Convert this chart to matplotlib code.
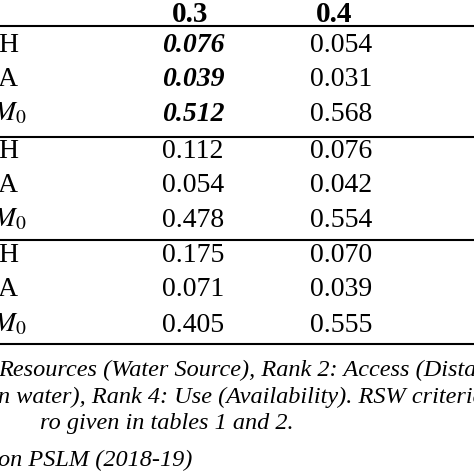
import matplotlib.pyplot as plt

plt.rcParams['font.family'] = ['Liberation Serif', 'DejaVu Serif']
plt.rcParams['mathtext.fontset'] = 'stix'

headers = ["0.3", "0.4"]
row_labels = ["H", "A", "$M_0$"] * 3
col_03 = ["0.076", "0.039", "0.512", "0.112", "0.054", "0.478", "0.175", "0.071", "0.405"]
col_04 = ["0.054", "0.031", "0.568", "0.076", "0.042", "0.554", "0.070", "0.039", "0.555"]
bold_rows = [0, 1, 2]
notes = ["Resources (Water Source), Rank 2: Access (Distance",
         "n water), Rank 4: Use (Availability). RSW criteria",
         "ro given in tables 1 and 2.",
         "on PSLM (2018-19)"]
note_x = [-2, -2, 40, -2]
note_y = [370, 397, 423, 460]

W = H = 474
fig = plt.figure(figsize=(4.74, 4.74), dpi=100)
ax = fig.add_axes([0, 0, 1, 1])
ax.set_xlim(0, W)
ax.set_ylim(H, 0)
ax.axis('off')

fs = 20
ax.text(190, 14, headers[0], fontsize=21, fontweight='bold', ha='center', va='center')
ax.text(334, 14, headers[1], fontsize=21, fontweight='bold', ha='center', va='center')

row_y = [45, 79, 114, 152, 186, 220, 256, 290, 325]
for i, y in enumerate(row_y):
    ax.text(-8 if i % 3 == 2 else -2, y, row_labels[i], fontsize=fs, ha='left', va='center')
    if i in bold_rows:
        ax.text(162, y, col_03[i], fontsize=fs, fontweight='bold', style='italic', ha='left', va='center')
    else:
        ax.text(162, y, col_03[i], fontsize=fs, ha='left', va='center')
    ax.text(310, y, col_04[i], fontsize=fs, ha='left', va='center')

for y in [26, 137, 240, 344]:
    ax.plot([0, W], [y, y], color='black', lw=1.5)

for t, x, y in zip(notes, note_x, note_y):
    ax.text(x, y, t, fontsize=17.5, style='italic', ha='left', va='center', clip_on=True)

fig.savefig("out.png", dpi=100)
